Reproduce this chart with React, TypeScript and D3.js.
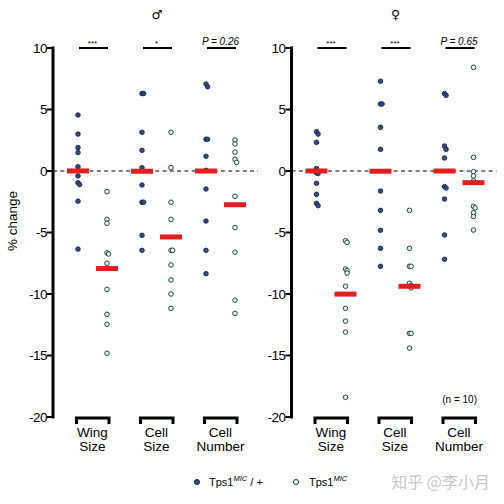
import React from "react";
import * as d3 from "d3";

// categories and tick labels
const categories = ["Wing Size", "Cell Size", "Cell Number"];
const yTicks = [10, 5, 0, -5, -10, -15, -20];
const maleSig = ["***", "*", "P = 0.26"];
const femaleSig = ["***", "***", "P = 0.65"];

// male (♂) % change, Tps1MIC/+ and Tps1MIC
const maleWingHet = [4.55, 3.0, 1.9, 1.5, 0.35, -0.4, -0.95, -1.1, -2.45, -6.35];
const maleWingMut = [-1.68, -3.93, -4.25, -6.65, -6.75, -7.5, -9.62, -11.65, -12.46, -14.82];
const maleCellSizeHet = [6.3, 6.3, 3.15, 1.68, 0.27, -1.14, -2.54, -2.54, -5.23, -6.45];
const maleCellSizeMut = [3.15, 0.27, -2.54, -3.93, -6.45, -6.45, -7.64, -8.86, -10.0, -11.17];
const maleCellNumHet = [7.07, 6.85, 2.58, 2.58, 1.2, 0.05, -1.46, -4.07, -6.45, -8.35];
const maleCellNumMut = [2.52, 2.2, 1.54, 0.95, 0.7, -2.06, -4.6, -6.6, -10.5, -11.57];

// female (♀)
const femaleWingHet = [3.2, 3.0, 2.33, 0.2, -0.15, -0.2, -1.0, -1.9, -2.63, -2.82];
const femaleWingMut = [-5.67, -5.8, -7.97, -8.1, -8.3, -9.37, -11.17, -12.2, -13.1, -18.4];
const femaleCellSizeHet = [7.3, 5.45, 5.45, 3.55, 1.76, -1.63, -3.2, -4.82, -6.29, -7.75];
const femaleCellSizeMut = [-3.2, -6.29, -7.75, -7.75, -9.13, -9.3, -9.5, -13.2, -13.2, -14.4];
const femaleCellNumHet = [6.3, 6.15, 2.03, 1.76, 1.06, -1.27, -1.38, -2.28, -5.2, -7.18];
const femaleCellNumMut = [8.43, 1.11, -0.05, -0.4, -0.8, -2.87, -3.0, -3.4, -3.7, -4.8];

const panels = [
  {
    symbol: "♂",
    axisX: 53,
    sig: maleSig,
    het: [maleWingHet, maleCellSizeHet, maleCellNumHet],
    mut: [maleWingMut, maleCellSizeMut, maleCellNumMut],
  },
  {
    symbol: "♀",
    axisX: 291.5,
    sig: femaleSig,
    het: [femaleWingHet, femaleCellSizeHet, femaleCellNumHet],
    mut: [femaleWingMut, femaleCellSizeMut, femaleCellNumMut],
  },
];

const FONT = "'Liberation Sans', Arial, sans-serif";
const HET_FILL = "#2d4c8c";
const MUT_FILL = "#d9f6f3";
const RED = "#e11f1f";

const y = d3.scaleLinear().domain([-20, 10]).range([417, 48]);

// small horizontal offsets for points that overlap
function spread(values: number[]) {
  const placed: number[] = [];
  return values.map((v) => {
    const k = placed.filter((p) => Math.abs(p - v) < 0.3).length;
    placed.push(v);
    return [0, 1.6, -1.6, 3][k] ?? 0;
  });
}

const Panel = ({ p }: { p: (typeof panels)[number] }) => {
  const x = d3
    .scaleBand()
    .domain(categories)
    .range([p.axisX + 7.5, p.axisX + 199.5])
    .padding(0);
  const cx = (c: string) => (x(c) as number) + x.bandwidth() / 2;
  const off = 14.5;

  return (
    <g>
      <text x={p.axisX + 104} y={19} textAnchor="middle" fontSize={12.5} fontFamily="'DejaVu Sans'">
        {p.symbol}
      </text>

      {/* zero line */}
      <line
        x1={p.axisX}
        x2={p.axisX + 205}
        y1={y(0)}
        y2={y(0)}
        stroke="#000"
        strokeWidth={1.2}
        strokeDasharray="4,3.3"
      />

      {/* y axis */}
      <line x1={p.axisX} x2={p.axisX} y1={y(10) - 1.5} y2={y(-20) + 1.5} stroke="#000" strokeWidth={3} />
      {yTicks.map((t) => (
        <g key={t}>
          <line x1={p.axisX - 6} x2={p.axisX} y1={y(t)} y2={y(t)} stroke="#000" strokeWidth={2} />
          <text
            x={p.axisX - 6}
            y={y(t)}
            dy="0.36em"
            textAnchor="end"
            fontSize={13.5}
            fontFamily={FONT}
            letterSpacing={-0.5}
          >
            {t}
          </text>
        </g>
      ))}

      {categories.map((c, i) => {
        const het = p.het[i];
        const mut = p.mut[i];
        const hx = cx(c) - off;
        const mx = cx(c) + off;
        const hs = spread(het);
        const ms = spread(mut);
        const sig = p.sig[i];
        const isP = sig.startsWith("P");
        return (
          <g key={c}>
            {/* significance */}
            <line x1={hx + 1} x2={mx + 1} y1={y(10)} y2={y(10)} stroke="#000" strokeWidth={2} />
            <text
              x={cx(c)}
              y={isP ? y(10) - 3 : y(10) - 2.5}
              textAnchor="middle"
              fontSize={isP ? 10 : 8}
              fontStyle={isP ? "italic" : "normal"}
              fontFamily={FONT}
            >
              {sig}
            </text>

            {/* points */}
            {het.map((v, j) => (
              <circle
                key={"h" + j}
                cx={hx + hs[j]}
                cy={y(v)}
                r={2.3}
                fill={HET_FILL}
                stroke="#122040"
                strokeWidth={0.8}
              />
            ))}
            {mut.map((v, j) => (
              <circle
                key={"m" + j}
                cx={mx + ms[j]}
                cy={y(v)}
                r={2.3}
                fill={MUT_FILL}
                stroke="#1d3333"
                strokeWidth={0.9}
              />
            ))}

            {/* means */}
            <rect x={hx - 11} y={y(d3.mean(het) as number) - 2.5} width={22} height={5} fill={RED} />
            <rect x={mx - 11} y={y(d3.mean(mut) as number) - 2.5} width={22} height={5} fill={RED} />

            {/* category bracket */}
            <path
              d={`M${hx - 1.5},${y(-20) + 7} V${y(-20) + 1} H${mx + 2} V${y(-20) + 7}`}
              fill="none"
              stroke="#000"
              strokeWidth={3}
            />
            {c.split(" ").map((w, k) => (
              <text
                key={w}
                x={cx(c)}
                y={437 + k * 14}
                textAnchor="middle"
                fontSize={13.5}
                fontFamily={FONT}
              >
                {w}
              </text>
            ))}
          </g>
        );
      })}
    </g>
  );
};

export default function App() {
  return (
    <svg
      width={504}
      height={504}
      style={{ position: "absolute", left: 0, top: 0, background: "#fff" }}
    >
      <rect width={504} height={504} fill="#fff" />
      <text
        transform="translate(17,221) rotate(-90)"
        textAnchor="middle"
        fontSize={13.5}
        fontFamily={FONT}
      >
        % change
      </text>

      {panels.map((p) => (
        <Panel key={p.symbol} p={p} />
      ))}

      <text x={477} y={403} textAnchor="end" fontSize={10} fontFamily={FONT}>
        (n = 10)
      </text>

      {/* legend */}
      <circle cx={197} cy={482} r={2.6} fill={HET_FILL} stroke="#122040" strokeWidth={0.8} />
      <text x={209} y={486} fontSize={11} fontFamily={FONT}>
        Tps1
        <tspan dy={-5} fontSize={7.5} fontStyle="italic">
          MIC
        </tspan>
        <tspan dy={5}> / +</tspan>
      </text>
      <circle cx={296} cy={482} r={2.6} fill={MUT_FILL} stroke="#1d3333" strokeWidth={0.9} />
      <text x={309} y={486} fontSize={11} fontFamily={FONT}>
        Tps1
        <tspan dy={-5} fontSize={7.5} fontStyle="italic">
          MIC
        </tspan>
      </text>

      <text x={490} y={488} textAnchor="end" fontSize={16} fill="#c8c8c8" fontFamily="'Noto Sans CJK SC'">
        知乎 @李小月
      </text>
    </svg>
  );
}
